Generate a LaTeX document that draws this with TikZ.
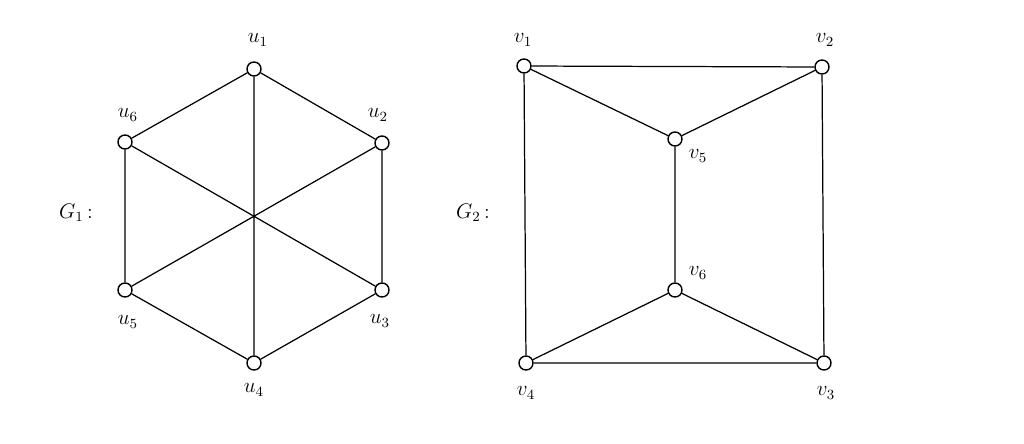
\documentclass[tikz,border=0pt]{standalone}
\begin{document}
\begin{tikzpicture}[x=0.02cm,y=-0.02cm,
  vtx/.style={circle,draw,fill=white,inner sep=0pt,minimum size=0.28cm,line width=0.8pt},
  lbl/.style={font=\large},
  edge/.style={line width=0.7pt}]
\useasboundingbox (0,0) rectangle (1024,443);
\node[vtx] (u1) at (254,69) {};
\node[vtx] (u2) at (382,143) {};
\node[vtx] (u3) at (382,290) {};
\node[vtx] (u4) at (254,363) {};
\node[vtx] (u5) at (125,290) {};
\node[vtx] (u6) at (125,142) {};
\begin{scope}[on background layer/.style={}]
\end{scope}
\draw[edge] (u1)--(u2) (u2)--(u3) (u3)--(u4) (u4)--(u5) (u5)--(u6) (u6)--(u1)
 (u1)--(u4) (u2)--(u5) (u3)--(u6);
\node[vtx] (v1) at (524,66) {};
\node[vtx] (v2) at (822,67) {};
\node[vtx] (v3) at (824,363) {};
\node[vtx] (v4) at (526,363) {};
\node[vtx] (v5) at (675,139) {};
\node[vtx] (v6) at (675,290) {};
\draw[edge] (v1)--(v2) (v2)--(v3) (v3)--(v4) (v4)--(v1) (v1)--(v5) (v2)--(v5)
 (v5)--(v6) (v6)--(v4) (v6)--(v3);
\node[lbl] (lu1) at (258,40) {$u_1$};
\node[lbl] (lu2) at (378,115) {$u_2$};
\node[lbl] (lu3) at (380,321) {$u_3$};
\node[lbl] (lu4) at (254,390) {$u_4$};
\node[lbl] (lu5) at (128,322) {$u_5$};
\node[lbl] (lu6) at (128,115) {$u_6$};
\node[lbl] (g1) at (76,213) {$G_1$\,:};
\node[lbl] (lv1) at (523,40) {$v_1$};
\node[lbl] (lv2) at (825,40) {$v_2$};
\node[lbl] (lv5) at (698,156) {$v_5$};
\node[lbl] (lv6) at (698,273) {$v_6$};
\node[lbl] (lv4) at (526,393) {$v_4$};
\node[lbl] (lv3) at (826,393) {$v_3$};
\node[lbl] (g2) at (473,213) {$G_2$\,:};
\end{tikzpicture}
\end{document}
